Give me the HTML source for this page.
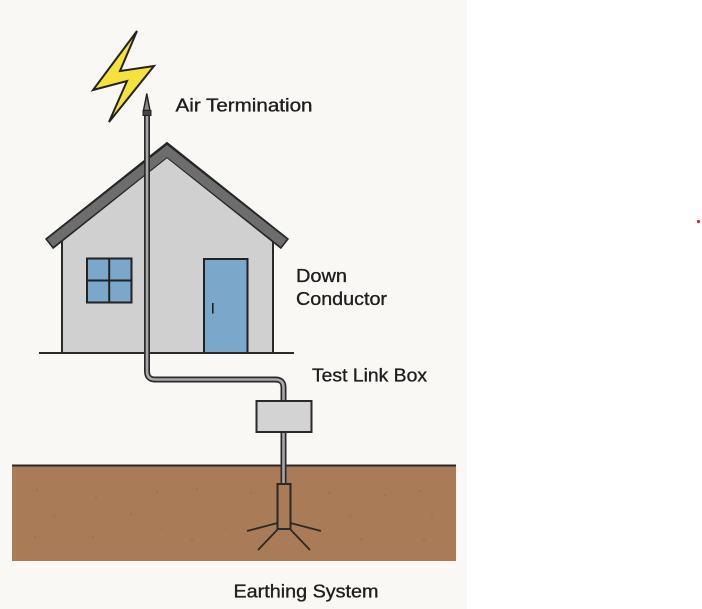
<!DOCTYPE html>
<html>
<head>
<meta charset="utf-8">
<style>
  html, body { margin:0; padding:0; background:#ffffff; }
  body { width:702px; height:609px; overflow:hidden; position:relative; }
  svg { position:absolute; left:0; top:0; }
  text { font-family: "Liberation Sans", "DejaVu Sans", sans-serif; fill:#1e1e1e; stroke:#1e1e1e; stroke-width:0.35px; font-size:18.5px; }
</style>
</head>
<body>
<svg width="702" height="609" viewBox="0 0 702 609" xmlns="http://www.w3.org/2000/svg">
  <!-- panel background -->
  <rect x="0" y="0" width="467" height="609" fill="#f9f8f5"/>
  <rect x="467" y="0" width="235" height="609" fill="#ffffff"/>
  <!-- red dot -->
  <circle cx="698.5" cy="221.5" r="1.6" fill="#e02020"/>

  <!-- lightning bolt -->
  <polygon points="137,31 93,90 127,81 109,122 154,66 120,71" fill="#f5e23c" stroke="#222" stroke-width="2" stroke-linejoin="miter"/>

  <!-- house body -->
  <polygon points="62,353 62,233 167,150 273,233 273,353" fill="#d0d0d0" stroke="#2a2a2a" stroke-width="2"/>
  <!-- window -->
  <rect x="87" y="258.5" width="44.5" height="44" fill="#7aa7ca" stroke="#222" stroke-width="2"/>
  <line x1="109.2" y1="258.5" x2="109.2" y2="302.5" stroke="#222" stroke-width="2"/>
  <line x1="87" y1="280.5" x2="131.5" y2="280.5" stroke="#222" stroke-width="2"/>
  <!-- door -->
  <rect x="204" y="259" width="43.5" height="94" fill="#7aa7ca" stroke="#222" stroke-width="2"/>
  <line x1="212.8" y1="303" x2="212.8" y2="313.5" stroke="#222" stroke-width="1.6"/>

  <!-- roof -->
  <polyline points="49,244 167,150 285,244" fill="none" stroke="#262626" stroke-width="13" stroke-linejoin="miter" stroke-miterlimit="10"/>
  <polyline points="50.2,243 167,151 283.8,243" fill="none" stroke="#6d6d6d" stroke-width="9.5" stroke-linejoin="miter" stroke-miterlimit="10"/>

  <!-- ground line under house -->
  <line x1="39" y1="353" x2="294" y2="353" stroke="#2a2a2a" stroke-width="2"/>

  <!-- earth -->
  <rect x="12" y="465" width="444" height="96" fill="#a97b56"/>
  <line x1="12" y1="465.5" x2="456" y2="465.5" stroke="#2a2a2a" stroke-width="2"/>
  <g fill="#8f6545" opacity="0.7">
    <circle cx="37" cy="490" r="0.8"/><circle cx="96" cy="497" r="0.8"/><circle cx="157" cy="492" r="0.8"/>
    <circle cx="197" cy="489" r="0.8"/><circle cx="251" cy="493" r="0.8"/><circle cx="54" cy="516" r="0.8"/>
    <circle cx="131" cy="514" r="0.8"/><circle cx="162" cy="528" r="0.8"/><circle cx="226" cy="528" r="0.8"/>
    <circle cx="35" cy="537" r="0.8"/><circle cx="93" cy="537" r="0.8"/><circle cx="192" cy="540" r="0.8"/>
    <circle cx="329" cy="493" r="0.8"/><circle cx="385" cy="495" r="0.8"/><circle cx="420" cy="491" r="0.8"/>
    <circle cx="350" cy="516" r="0.8"/><circle cx="432" cy="517" r="0.8"/><circle cx="361" cy="539" r="0.8"/>
    <circle cx="424" cy="540" r="0.8"/>
  </g>

  <!-- conductor path (rod) -->
  <path d="M147,114 L147,371 Q147,379.5 155,379.5 L275.5,379.5 Q283.5,379.5 283.5,387.5 L283.5,484" fill="none" stroke="#2a2a2a" stroke-width="6"/>
  <path d="M147,114 L147,371 Q147,379.5 155,379.5 L275.5,379.5 Q283.5,379.5 283.5,387.5 L283.5,484" fill="none" stroke="#a8a8a8" stroke-width="2.6"/>

  <!-- air terminal tip -->
  <polygon points="146.8,94 143.5,110.5 150,110.5" fill="#8a8a8a" stroke="#222" stroke-width="1.5" stroke-linejoin="round"/>
  <rect x="143" y="110.5" width="8" height="5" fill="#444" stroke="#222" stroke-width="1"/>

  <!-- test link box -->
  <rect x="256.5" y="401" width="55" height="31" fill="#d3d3d3" stroke="#2a2a2a" stroke-width="2"/>

  <!-- electrode -->
  <rect x="277.5" y="484" width="13" height="45" fill="#a97b56" stroke="#2a2a2a" stroke-width="2"/>
  <g stroke="#2a2a2a" stroke-width="1.8" fill="none">
    <line x1="277.5" y1="523" x2="247" y2="531"/>
    <line x1="290.5" y1="523" x2="321" y2="531"/>
    <line x1="278" y1="529" x2="258" y2="550"/>
    <line x1="290" y1="529" x2="310" y2="550"/>
  </g>

  <!-- labels -->
  <text x="175.5" y="111.5" textLength="137" lengthAdjust="spacingAndGlyphs">Air Termination</text>
  <text x="296" y="282" textLength="51" lengthAdjust="spacingAndGlyphs">Down</text>
  <text x="296" y="305" textLength="91" lengthAdjust="spacingAndGlyphs">Conductor</text>
  <text x="312" y="381.5" textLength="115" lengthAdjust="spacingAndGlyphs">Test Link Box</text>
  <text x="233.5" y="597.5" textLength="145" lengthAdjust="spacingAndGlyphs">Earthing System</text>
</svg>
</body>
</html>
